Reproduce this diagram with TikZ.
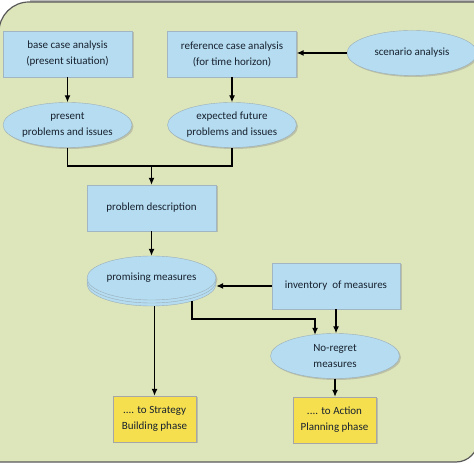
\documentclass[tikz,border=0pt]{standalone}
\usepackage{fontspec}
\setmainfont{Carlito}
\usetikzlibrary{shapes.geometric,shadows,arrows.meta}
\definecolor{panelgreen}{HTML}{DDE5BB}
\definecolor{boxblue}{HTML}{B5DCF0}
\definecolor{boxyellow}{HTML}{F6DF4E}
\definecolor{inkblue}{HTML}{17212F}
\tikzset{
  box/.style={rectangle, fill=boxblue, draw=boxblue!60!gray, thin, minimum width=129pt, minimum height=46pt,
    align=center, text=inkblue, drop shadow={opacity=0.35, shadow xshift=1.5pt, shadow yshift=-1.5pt}},
  blob/.style={ellipse, fill=boxblue, draw=boxblue!50!gray, thin, minimum width=129pt, minimum height=45pt,
    inner sep=0pt, align=center, text=inkblue, drop shadow={opacity=0.35, shadow xshift=1.5pt, shadow yshift=-1.5pt}},
  goal/.style={rectangle, fill=boxyellow, draw=gray!70, thin, minimum width=83pt, minimum height=46pt,
    align=center, text=inkblue, drop shadow={opacity=0.35, shadow xshift=1.5pt, shadow yshift=-1.5pt}},
  flow/.style={-{Latex[length=7pt,width=6pt]}, line width=1.2pt},
  link/.style={line width=1.2pt}
}
\begin{document}
\begin{tikzpicture}[x=1pt, y=1pt, font=\fontsize{11}{16}\selectfont]
\useasboundingbox (0,0) rectangle (474,474);
% panel
\fill[white] (0,0) rectangle (474,474);
\fill[gray!55] (30,471) rectangle (474,474);
\draw[fill=panelgreen, draw=gray!70!black, line width=1.2pt]
  (-1,12) -- (-1,442) arc[start angle=180, end angle=90, radius=30] -- (478,472)
  -- (478,34) arc[start angle=0, end angle=-90, radius=22] -- cycle;

\node[box] (base) at (67.5,420) {base case analysis\\(present situation)};
\node[box] (ref) at (232,420) {reference case analysis\\(for time horizon)};
\node[blob, minimum width=130pt] (scen) at (412,421) {scenario analysis};

\node[blob] (present) at (67.5,349) {present\\problems and issues};
\node[blob] (future) at (232,349) {expected future\\problems and issues};

\node[box] (probdesc) at (151.5,266) {problem description};

\node[blob, minimum height=44pt, double copy shadow={shadow xshift=0pt, shadow yshift=-3pt, fill=boxblue, draw=boxblue!50!gray}] (promising) at (151.5,196) {promising measures};
\node[box, minimum width=128pt] (inventory) at (336,188) {inventory\ \ of measures};

\node[blob] (noregret) at (335,118) {No-regret\\measures};

\node[goal] (strategy) at (154.5,55) {.... to Strategy\\Building phase};
\node[goal] (action) at (334.5,54) {.... to Action\\Planning phase};

\coordinate (join) at (151.5,308);
\coordinate (bend) at (192,155);

\draw[flow] (base) -- (present);
\draw[flow] (ref) -- (future);
\draw[flow] (scen.west) -- (scen.west -| ref.east);
\draw[link] (present.south) |- (join) -| (future.south);
\draw[flow] (join) -- (probdesc.north);
\draw[flow] (probdesc) -- (promising);
\draw[flow] (inventory.west) -- (inventory.west -| promising.east);
\draw[flow] ([yshift=-6pt]promising.south -| strategy.north) -- (strategy.north);
\draw[flow] ([shift={(40.5pt,-23pt)}]promising.center) -- (bend) -- (315,155) -- ([xshift=-20pt, yshift=-1.5pt]noregret.north);
\draw[flow] (inventory.south) -- (inventory.south |- noregret.north);
\draw[flow] (noregret.south) -- (noregret.south |- action.north);
\end{tikzpicture}
\end{document}
